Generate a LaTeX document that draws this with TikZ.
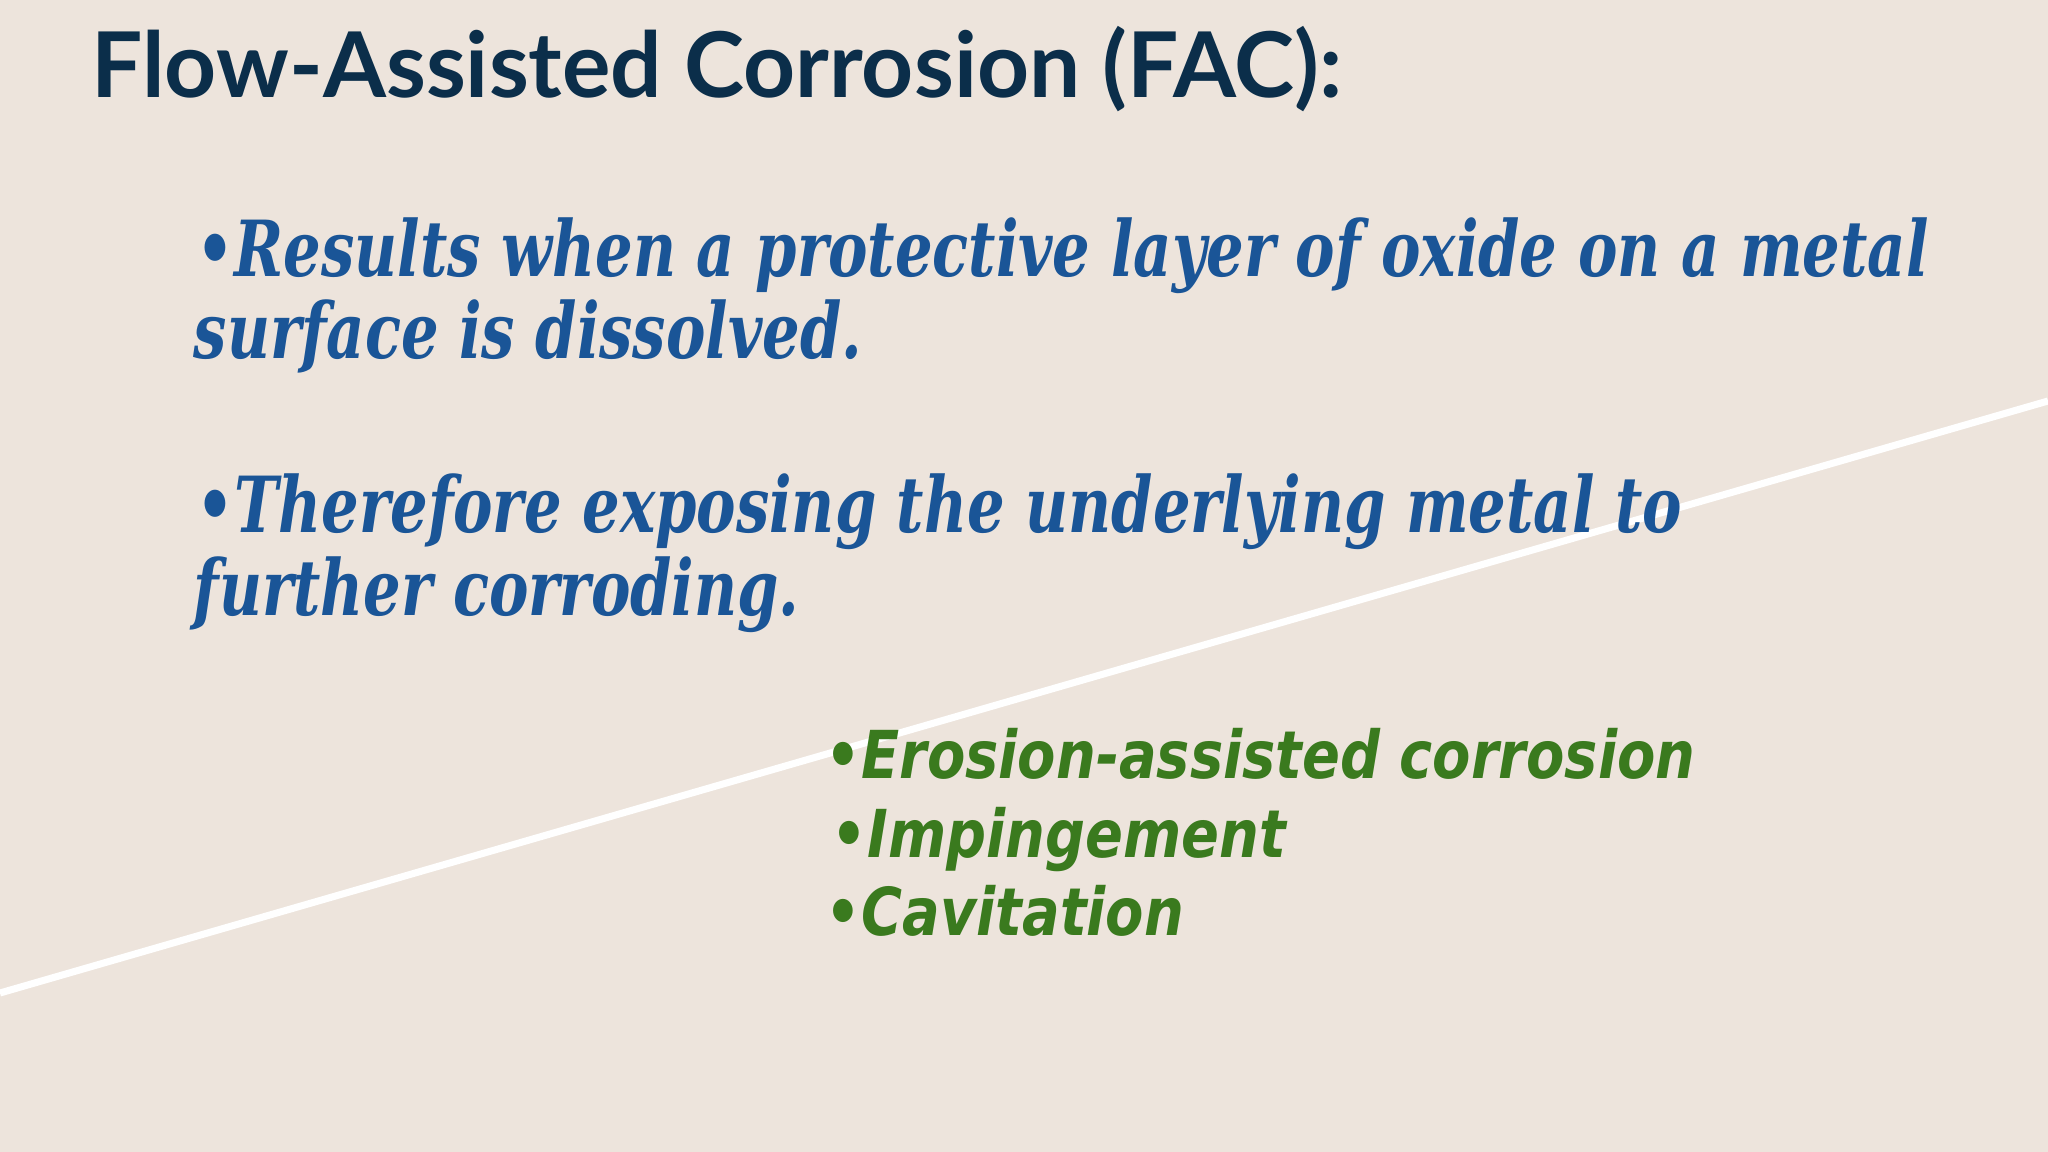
\documentclass[tikz,border=0pt]{standalone}
\usepackage{fontspec}
\usepackage{graphicx}
\setmainfont{DejaVu Serif}
\newfontfamily\titlefont{Lato}
\newfontfamily\greenfont{DejaVu Sans}
\definecolor{bg}{HTML}{EDE4DC}
\definecolor{navy}{HTML}{0B2E4A}
\definecolor{blu}{HTML}{1A5597}
\definecolor{grn}{HTML}{3A7A1E}
\newcommand{\bsq}[1]{\scalebox{0.765}[1]{#1}}
\newcommand{\gsq}[1]{\scalebox{0.845}[1]{#1}}
\begin{document}
\begin{tikzpicture}[x=0.01cm,y=-0.01cm,
  txt/.style={anchor=base west,inner sep=0pt},
  bl/.style={txt,text=blu,font=\fontsize{22}{26}\selectfont\bfseries\itshape},
  gr/.style={txt,text=grn,font=\greenfont\fontsize{18.8}{22}\selectfont\bfseries\itshape}]
\fill[bg] (0,0) rectangle (2048,1152);
\useasboundingbox (0,0) rectangle (2048,1152);
\coordinate (l1) at (0,993);
\coordinate (l2) at (2048,401);
\draw[white,line width=2pt] (l1) -- (l2);
\node[txt,text=navy,font=\titlefont\fontsize{25.8}{30}\selectfont\bfseries] (t) at (91,98) {Flow-Assisted Corrosion (FAC):};
\node[bl] (a1) at (196,277) {\bsq{•Results when a protective layer of oxide on a metal}};
\node[bl] (a2) at (193,359) {\bsq{surface is dissolved.}};
\node[bl] (b1) at (196,533) {\bsq{•Therefore exposing the underlying metal to}};
\node[bl] (b2) at (193,615) {\bsq{further corroding.}};
\node[gr] (g1) at (825,778) {\gsq{•Erosion-assisted corrosion}};
\node[gr] (g2) at (831,857) {\gsq{•Impingement}};
\node[gr] (g3) at (825,935) {\gsq{•Cavitation}};
\end{tikzpicture}
\end{document}
